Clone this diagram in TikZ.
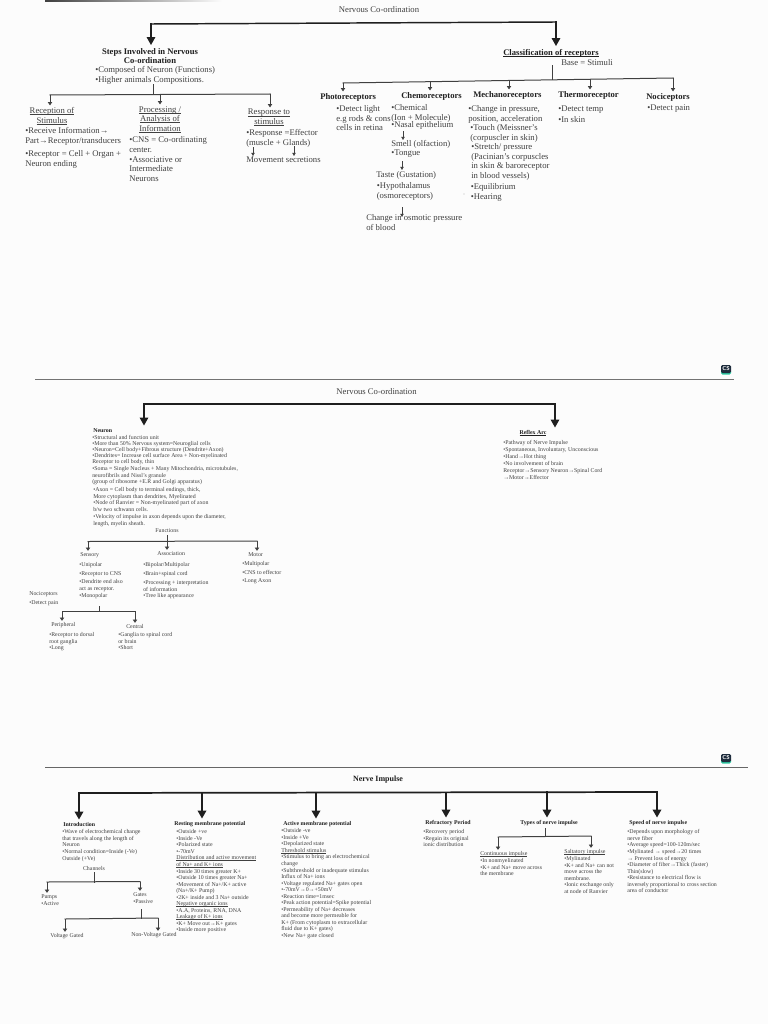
\documentclass[tikz,border=0pt]{standalone}
\usepackage{fontspec}
\setmainfont{Liberation Serif}
\usetikzlibrary{arrows.meta}
\definecolor{ink}{gray}{0.25}
\definecolor{inkb}{gray}{0.12}
\definecolor{csnavy}{HTML}{1F2D3D}
\definecolor{csteal}{HTML}{2CC7A0}
\newcommand{\ulx}[1]{\setbox0=\hbox{#1}\leavevmode\rlap{\rule[-0.13em]{\wd0}{0.06em}}\box0 }
\tikzset{
  x=0.75pt,y=-0.75pt,
  big/.style={draw=inkb,line width=1.1pt,line cap=rect,shorten >=2.2pt,-{Triangle[length=6pt,width=6.4pt]}},
  bigbar/.style={draw=inkb,line width=1.1pt,line cap=rect},
  sub/.style={draw=ink,line width=0.65pt,shorten >=1.2pt,-{Triangle[length=2.5pt,width=3.2pt]}},
  subbar/.style={draw=ink,line width=0.75pt,line cap=rect},
  tiny/.style={draw=ink,line width=0.45pt,-{Triangle[length=2.4pt,width=2.6pt]}},
  ta/.style={anchor=north west,align=left,inner sep=0pt,text=ink,yshift=3pt,font=\fontsize{6.5}{7.3}\selectfont},
  tac/.style={ta,anchor=north,align=center},
  ha/.style={ta,text=inkb,font=\fontsize{6.45}{7.0}\selectfont\bfseries},
  hac/.style={ha,anchor=north,align=center},
  tb/.style={anchor=north west,align=left,inner sep=0pt,text=ink,yshift=1.9pt,font=\fontsize{4.4}{4.9}\selectfont},
  tbt/.style={tb,font=\fontsize{4.4}{4.5}\selectfont},
  tbc/.style={tb,anchor=north,align=center},
  hb/.style={tb,text=inkb,font=\fontsize{4.4}{4.9}\selectfont\bfseries},
  hbc/.style={hb,anchor=north,align=center},
  cslogo/.style={anchor=center,inner sep=0pt,text=white,font=\fontsize{4.2}{4.2}\selectfont\bfseries\sffamily},
}
\begin{document}
\begin{tikzpicture}
\useasboundingbox (0,0) rectangle (768,1024);
\fill[white!99!black] (0,0) rectangle (768,1024);
% page rules
\shade[left color=black!75,right color=white!99!black] (45,0) rectangle (222,1.4);
\draw[gray!90!black,line width=0.6pt] (35,379) -- (734,379);
\draw[gray!80!black,line width=0.9pt] (45,767.5) -- (748,767.5);
% CS marks
\fill[csteal,rounded corners=1pt] (721,370) rectangle (731,374.5);
\fill[csnavy,rounded corners=1pt] (721,365) rectangle (731,373);
\node[cslogo] (csa) at (726,369) {CS};
\fill[csteal,rounded corners=1pt] (721,759) rectangle (731,763.5);
\fill[csnavy,rounded corners=1pt] (721,754) rectangle (731,762);
\node[cslogo] (csb) at (726,758) {CS};

%%%%%%%%%%%% PAGE 1
\node[tac] (ttlA) at (379,10.5) {Nervous Co-ordination};
\node[hac] (steps) at (150,52) {Steps Involved in Nervous\\Co-ordination};
\node[ta] (stepsB) at (95,70) {•Composed of Neuron (Functions)\\•Higher animals Compositions.};
\node[ha] (cls) at (503,53) {\ulx{Classification of receptors}};
\node[ta] (base) at (561,63) {Base = Stimuli};
\coordinate (m1L) at (151,24);
\coordinate (m1R) at (556,22);
\draw[bigbar] (m1L) -- (m1R);
\draw[big] (m1L) -- (m1L |- steps.north);
\draw[big] (m1R) -- (m1R |- cls.north);

% steps children
\node[tac] (rec) at (52,111) {\ulx{Reception of}\\\ulx{Stimulus}};
\node[ta] (recB) at (25,131) {•Receive Information→\\Part→Receptor/transducers};
\node[ta] (recC) at (25,154) {•Receptor = Cell + Organ +\\Neuron ending};
\node[tac] (pro) at (160,110) {\ulx{Processing /}\\\ulx{Analysis of}\\\ulx{Information}};
\node[ta] (proB) at (129,140) {•CNS = Co-ordinating\\center.};
\node[ta] (proC) at (129,160) {•Associative or\\Intermediate\\Neurons};
\node[tac] (res) at (269,113) {\ulx{Response to}\\\ulx{stimulus}};
\node[ta] (resB) at (246,133) {•Response =Effector\\(muscle + Glands)};
\node[ta] (resC) at (246,160) {Movement secretions};
\coordinate (s1) at (153.5,85);
\coordinate (s1b) at (153.5,94.5);
\coordinate (s1L) at (50,95);
\coordinate (s1M) at (160,94.5);
\coordinate (s1R) at (270,94);
\draw[subbar] (s1) -- (s1b);
\draw[subbar] (s1L) -- (s1R);
\draw[sub] (s1L) -- (s1L |- rec.north);
\draw[sub] (s1M) -- (s1M |- pro.north);
\draw[sub] (s1R) -- (s1R |- res.north);
\coordinate (e1) at (253,147);
\coordinate (e2) at (294,146);
\draw[tiny] (e1) -- (e1 |- resC.north);
\draw[tiny] (e2) -- (e2 |- resC.north);

% classification children
\node[ha] (pho) at (320,97) {Photoreceptors};
\node[ha] (che) at (401,96) {Chemoreceptors};
\node[ha] (mec) at (473,95) {Mechanoreceptors};
\node[ha] (the) at (558,95) {Thermoreceptor};
\node[ha] (noc) at (646,97) {Nociceptors};
\coordinate (s2) at (552,66);
\coordinate (s2b) at (552,80);
\coordinate (s2a) at (343,83);
\coordinate (s2c) at (430,81.7);
\coordinate (s2d) at (509,80.5);
\coordinate (s2e) at (590,79.3);
\coordinate (s2f) at (673,78);
\draw[subbar] (s2) -- (s2b);
\draw[subbar] (s2a) -- (s2f);
\draw[sub] (s2a) -- (s2a |- pho.north);
\draw[sub] (s2c) -- (s2c |- che.north);
\draw[sub] (s2d) -- (s2d |- mec.north);
\draw[sub] (s2e) -- (s2e |- the.north);
\draw[sub] (s2f) -- (s2f |- noc.north);

\node[ta] (phoB) at (336,109) {•Detect light\\e.g rods \& cons\\cells in retina};
\node[ta] (cheB) at (391,108) {•Chemical\\(Ion + Molecule)};
\node[ta] (cheC) at (391,125) {•Nasal epithelium};
\node[ta] (smell) at (391,144) {Smell (olfaction)};
\node[ta] (tong) at (391,154) {•Tongue};
\node[ta] (taste) at (376,175) {Taste (Gustation)};
\node[ta] (hypo) at (376.5,186) {•Hypothalamus\\(osmoreceptors)};
\node[ta] (chg) at (366,218) {Change in osmotic pressure\\of blood};
\coordinate (c1a) at (403,131); \coordinate (c1b) at (403,140);
\coordinate (c2a) at (402,161); \coordinate (c2b) at (402,170);
\coordinate (c3a) at (402,207); \coordinate (c3b) at (402,217);
\draw[tiny] (c1a) -- (c1b);
\draw[tiny] (c2a) -- (c2b);
\draw[tiny] (c3a) -- (c3b);
\node[ta] (mecB) at (468,109) {•Change in pressure,\\position, acceleration};
\node[ta] (mecC) at (470,128) {•Touch (Meissner’s\\(corpuscler in skin)};
\node[ta] (mecD) at (471,147) {•Stretch/ pressure\\(Pacinian’s corpuscles\\in skin \& baroreceptor\\in blood vessels)};
\node[ta] (mecE) at (470.5,187) {•Equilibrium\\•Hearing};
\fill[ink] (464,194) circle (0.4);
\node[ta] (theB) at (558,110) {•Detect temp};
\node[ta] (theC) at (558,120) {•In skin};
\node[ta] (nocB) at (647,108) {•Detect pain};

%%%%%%%%%%%% PAGE 2
\node[tac] (ttlB) at (376.5,392) {Nervous Co-ordination};
\node[hb] (neu) at (93,431) {Neuron};
\node[tbt] (neuA) at (92,438) {•Structural and function unit\\•More than 50\% Nervous system=Neuroglial cells\\•Neuron=Cell body+Fibrous structure (Dendrite+Axon)\\•Dendrites= Increase cell surface Area + Non-myelinated\\Receptor to cell body, thin};
\node[tb] (neuB) at (92,469) {•Soma = Single Nucleus + Many Mitochondria, microtubules,\\neurofibrils and Nissl’s granule\\(group of ribosome +E.R and Golgi apparatus)};
\node[tb] (neuC) at (93,490) {•Axon = Cell body to terminal endings, thick,\\More cytoplasm than dendrites, Myelinated\\•Node of Ranvier = Non-myelinated part of axon\\b/w two schwann cells.};
\node[tb] (neuD) at (93,517) {•Velocity of impulse in axon depends upon the diameter,\\length, myelin sheath.};
\node[hbc] (ref) at (533,433) {\ulx{Reflex Arc}};
\node[tb,font=\fontsize{4.4}{5.25}\selectfont] (refB) at (503,443) {•Pathway of Nerve Impulse\\•Spontaneous, Involuntary, Unconscious\\•Hand→Hot thing\\•No involvement of brain\\Receptor→Sensory Neuron→Spinal Cord\\→Motor→Effector};
\coordinate (m2L) at (144,404);
\coordinate (m2R) at (555,404);
\draw[bigbar] (m2L) -- (m2R);
\draw[big] (m2L) -- (m2L |- neu.north);
\draw[big] (m2R) -- (m2R |- ref.north);
\node[tbc] (fun) at (167,531) {Functions};
\node[tb] (sen) at (80,555) {Sensory};
\node[tb] (ass) at (157,554) {Association};
\node[tb] (mot) at (248,555) {Motor};
\coordinate (f1) at (167,535);
\coordinate (f1L) at (88,541.5);
\coordinate (f1R) at (257,541);
\draw[subbar] (f1L) -- (f1R);
\draw[sub] (f1) -- (f1 |- ass.north);
\draw[sub] (f1L) -- (f1L |- sen.north);
\draw[sub] (f1R) -- (f1R |- mot.north);
\node[tb] (senA) at (79,565) {•Unipolar};
\node[tb] (senB) at (79,574) {•Receptor to CNS};
\node[tb] (senC) at (79,582) {•Dendrite end also\\act as receptor.};
\node[tb] (senD) at (79,596) {•Monopolar};
\node[tb] (assA) at (143,565) {•Bipolar/Multipolar};
\node[tb] (assB) at (143,574) {•Brain+spinal cord};
\node[tb] (assC) at (143,583) {•Processing + interpretation\\of information};
\node[tb] (assD) at (143,596) {•Tree like appearance};
\node[tb] (motA) at (242,564) {•Multipolar};
\node[tb] (motB) at (242,572.5) {•CNS to effector};
\node[tb] (motC) at (242,581) {•Long Axon};
\node[tb] (nocc) at (29,594) {Nociceptors};
\node[tb] (noccB) at (29,603) {•Detect pain};
\node[tb] (per) at (51,625) {Peripheral};
\node[tb] (cen) at (126,627) {Central};
\coordinate (g1) at (99,606);
\coordinate (g1b) at (99,611);
\coordinate (g1L) at (62,611);
\coordinate (g1R) at (135,611);
\draw[subbar] (g1) -- (g1b);
\draw[subbar] (g1L) -- (g1R);
\draw[sub] (g1L) -- (g1L |- per.north);
\draw[sub] (g1R) -- (g1R |- cen.north);
\node[tb] (perB) at (49,635) {•Receptor to dorsal\\root ganglia\\•Long};
\node[tb] (cenB) at (118,635) {•Ganglia to spinal cord\\or brain\\•Short};

%%%%%%%%%%%% PAGE 3
\node[hbc,font=\fontsize{6}{6.5}\selectfont\bfseries,yshift=0.8pt] (ttlC) at (378,779) {Nerve Impulse};
\node[hb] (intr) at (63,825) {Introduction};
\node[tb] (intrB) at (62,832) {•Wave of electrochemical change\\that travels along the length of\\Neuron\\•Normal condition=Inside (-Ve)\\Outside (+Ve)};
\node[hb] (rest) at (174,824) {Resting membrane potential};
\node[tb] (restB) at (176,832) {•Outside +ve\\•Inside -Ve\\•Polarized state\\•-70mV\\\ulx{Distribution and active movement}\\\ulx{of Na+ and K+ ions}\\•Inside 30 times greater K+\\•Outside 10 times greater Na+\\•Movement of Na+/K+ active\\(Na+/K+ Pump)\\•2K+ inside and 3 Na+ outside\\\ulx{Negative organic ions}\\•A.A, Proteins, RNA, DNA\\\ulx{Leakage of K+ ions}\\•K+ Move out→K+ gates\\•Inside more positive};
\node[hb] (act) at (283,824) {Active membrane potential};
\node[tb] (actB) at (281,831) {•Outside -ve\\•Inside +Ve\\•Depolarized state\\\ulx{Threshold stimulus}\\•Stimulus to bring an electrochemical\\change\\•Subthreshold or inadequate stimulus\\Influx of Na+ ions\\•Voltage regulated Na+ gates open\\•-70mV→0→+50mV\\•Reaction time=1msec\\•Peak action potential=Spike potential\\•Permeability of Na+ decreases\\and become more permeable for\\K+ (From cytoplasm to extracellular\\fluid due to K+ gates)\\•New Na+ gate closed};
\node[hb] (refr) at (425,823) {Refractory Period};
\node[tb] (refrB) at (423,832) {•Recovery period\\•Regain its original\\ionic distribution};
\node[hbc] (typ) at (549,823) {Types of nerve impulse};
\node[hb] (spd) at (629,823) {Speed of nerve impulse};
\node[tb] (spdB) at (627,832) {•Depends upon morphology of\\nerve fiber\\•Average speed=100-120m/sec\\•Mylinated → speed→20 times\\→ Prevent loss of energy\\•Diameter of fiber→Thick (faster)\\Thin(slow)\\•Resistance to electrical flow is\\inversely proportional to cross section\\area of conductor};
\coordinate (m3L) at (79,793);
\coordinate (m3R) at (657,792);
\coordinate (m3b) at (202,792.8);
\coordinate (m3c) at (316,792.6);
\coordinate (m3d) at (446,792.4);
\coordinate (m3e) at (547,792.2);
\tikzset{big3/.style={big,line width=1.3pt}}
\draw[bigbar,line width=1.3pt] (m3L) -- (m3R);
\draw[big3] (m3L) -- (m3L |- intr.north);
\draw[big3] (m3b) -- (m3b |- rest.north);
\draw[big3] (m3c) -- (m3c |- act.north);
\draw[big3] (m3d) -- (m3d |- refr.north);
\draw[big3] (m3e) -- (m3e |- typ.north);
\draw[big3] (m3R) -- (m3R |- spd.north);
% channels
\node[tbc] (cha) at (94,869) {Channels};
\node[tb] (pum) at (41,897) {Pumps\\•Active};
\node[tb] (gat) at (133,895) {Gates\\•Passive};
\coordinate (h1) at (94,872);
\coordinate (h1b) at (94,882);
\coordinate (h1L) at (47,882);
\coordinate (h1R) at (140,881.5);
\draw[subbar] (h1) -- (h1b);
\draw[subbar] (h1L) -- (h1R);
\draw[sub] (h1L) -- (h1L |- pum.north);
\draw[sub] (h1R) -- (h1R |- gat.north);
\node[tb] (vol) at (50,936) {Voltage Gated};
\node[tb] (nvo) at (131,935) {Non-Voltage Gated};
\coordinate (k1) at (141,909);
\coordinate (k1b) at (141,918);
\coordinate (k1L) at (65,919);
\coordinate (k1R) at (158,918);
\draw[subbar] (k1) -- (k1b);
\draw[subbar] (k1L) -- (k1R);
\draw[sub] (k1L) -- (k1L |- vol.north);
\draw[sub] (k1R) -- (k1R |- nvo.north);
% types
\node[tb] (con) at (480,854) {\ulx{Continuous impulse}};
\node[tb] (conB) at (480,861) {•In nonmyelinated\\•K+ and Na+ move across\\the membrane};
\node[tb] (sal) at (564,852) {\ulx{Saltatory impulse}};
\node[tb] (salB) at (564,859) {•Mylinated\\•K+ and Na+ can not\\move across the\\membrane.\\•Ionic exchange only\\at node of Ranvier};
\coordinate (t1) at (545,828);
\coordinate (t1b) at (545,836.5);
\coordinate (t1L) at (498,837);
\coordinate (t1R) at (591,836);
\draw[subbar] (t1) -- (t1b);
\draw[subbar] (t1L) -- (t1R);
\draw[sub] (t1L) -- (t1L |- con.north);
\draw[sub] (t1R) -- (t1R |- sal.north);
\end{tikzpicture}
\end{document}
